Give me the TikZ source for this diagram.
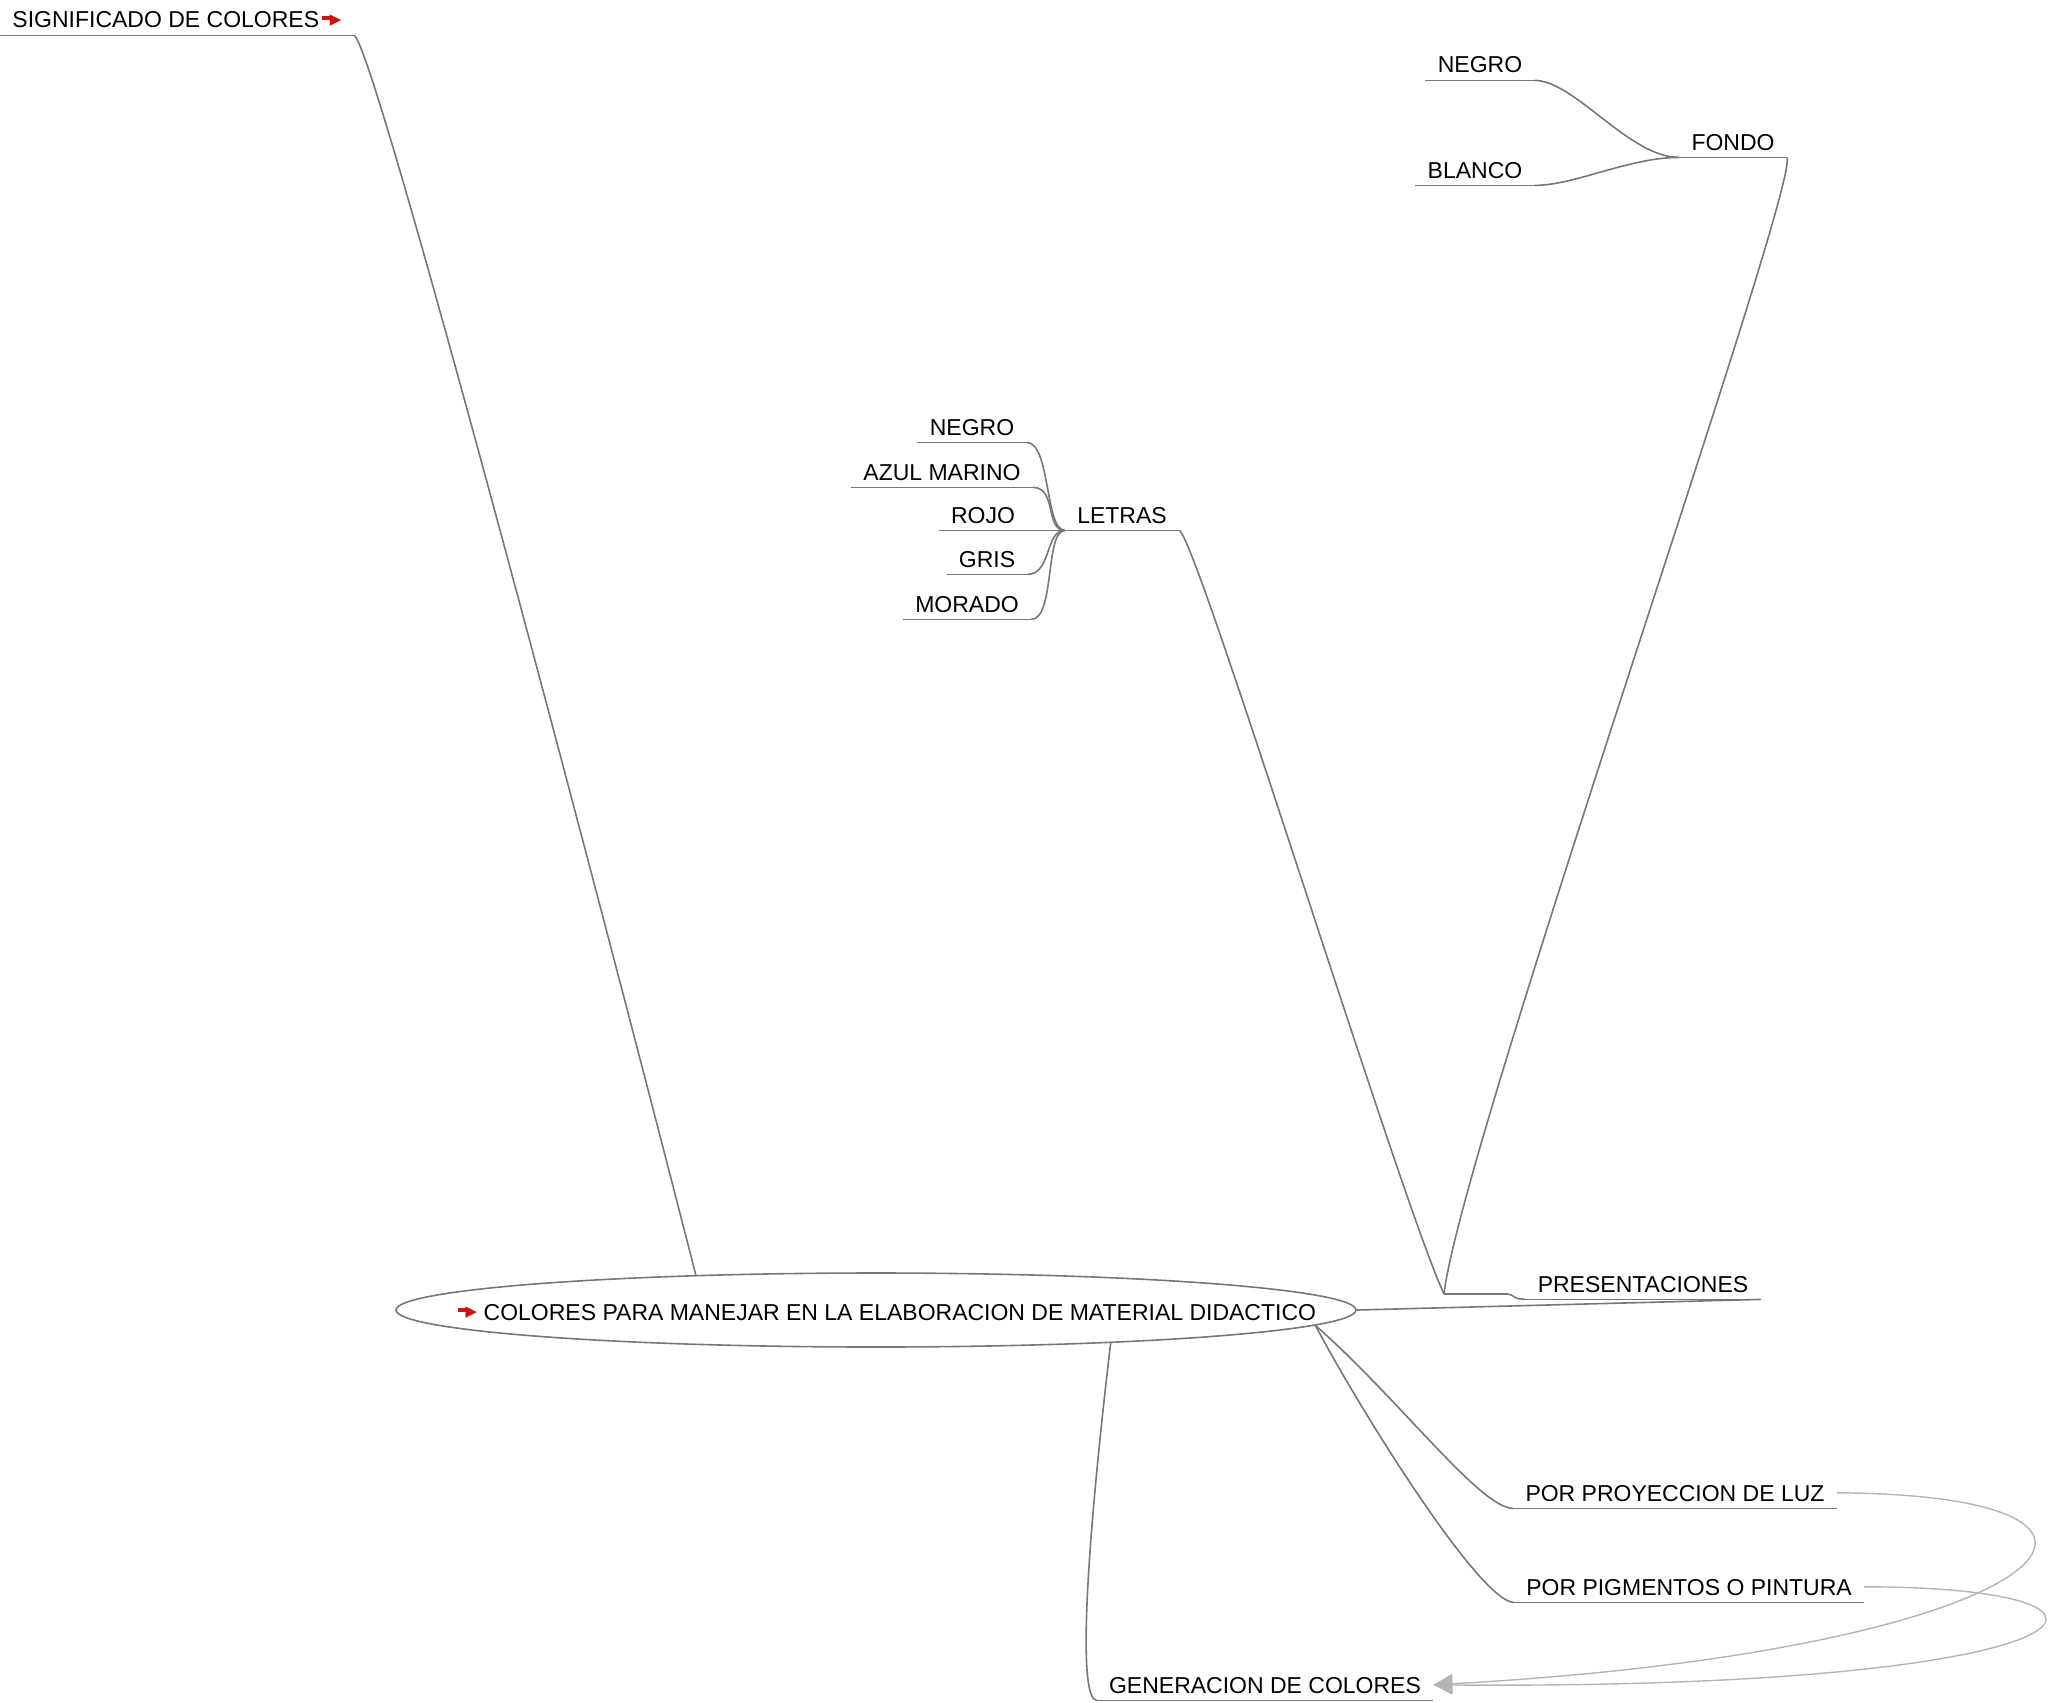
\documentclass[tikz,border=0pt]{standalone}
\usepackage{fontspec}
\setmainfont{Liberation Sans}
\newfontfamily\symfont{DejaVu Sans}
\usetikzlibrary{shapes.geometric,arrows.meta}
\definecolor{rama}{HTML}{777777}
\definecolor{enlace}{HTML}{B4B4B4}
\definecolor{rojoflecha}{HTML}{CC1111}
\newcommand{\flechaR}{{\color{rojoflecha}\rule[4pt]{4.5pt}{2.2pt}\kern-.6pt\raisebox{1.9pt}{\symfont\fontsize{7.5}{7.5}\selectfont ▶}}}

\begin{document}
\begin{tikzpicture}[x=.5pt,y=-.5pt,font=\fontsize{11.5}{13.8}\selectfont,
  tema/.style={anchor=base,inner xsep=6pt,inner ysep=3.5pt,text height=8.2pt,text depth=0pt},
  linea/.style={draw=rama,line width=.8pt},
  enlaceg/.style={draw=enlace,line width=.7pt,-{Triangle[length=9.5pt,width=9.5pt]}},
  nucleo/.style={ellipse,draw=rama,line width=.8pt,minimum width=480pt,minimum height=37pt,inner sep=0pt}]
  \useasboundingbox (0,0) rectangle (2048,1702);
  % central topic
  \node[nucleo] (titulo) at (876,1310) {};
  \node[anchor=base] (titulotxt) at (887,1320) {\flechaR\ COLORES PARA MANEJAR EN LA ELABORACION DE MATERIAL DIDACTICO};
  % topics
  \node[tema] (sig) at (177,28) {SIGNIFICADO DE COLORES\kern1.5pt\flechaR};
  \node[tema] (pres) at (1643,1292) {PRESENTACIONES};
  \node[tema] (fondo) at (1733,150) {FONDO};
  \node[tema] (fneg) at (1480,73) {NEGRO};
  \node[tema] (fbla) at (1475,178) {BLANCO};
  \node[tema] (letras) at (1122,523) {LETRAS};
  \node[tema] (lneg) at (972,435) {NEGRO};
  \node[tema] (lazu) at (942,480) {AZUL MARINO};
  \node[tema] (lroj) at (983,523) {ROJO};
  \node[tema] (lgri) at (987,567) {GRIS};
  \node[tema] (lmor) at (967,612) {MORADO};
  \node[tema] (proy) at (1675,1501) {POR PROYECCION DE LUZ};
  \node[tema] (pigm) at (1689,1595) {POR PIGMENTOS O PINTURA};
  \node[tema] (gener) at (1265,1693) {GENERACION DE COLORES};
  \coordinate (cruce) at (1444,1294);
  % underlines
  \foreach \n in {sig,pres,fondo,fneg,fbla,letras,lneg,lazu,lroj,lgri,lmor,proy,pigm,gener}
    \draw[linea] (\n.south west) -- (\n.south east);
  % branches
  \draw[linea] (sig.south east) .. controls (372,35) and (600,900) .. (titulo.169);
  \draw[linea] (titulo.east) -- (pres.south east);
  \draw[linea] (cruce) -- (1507,1294) .. controls (1514,1294) and (1513,1299) .. (1522,1299) -- (pres.south west);
  \draw[linea] (letras.south east) .. controls (1195,532) and (1400,1200) .. (cruce);
  \draw[linea] (fondo.south east) .. controls (1800,185) and (1460,1150) .. (cruce);
  \draw[linea] (fneg.south east) .. controls +(40,0) and +(-50,0) .. (fondo.south west);
  \draw[linea] (fbla.south east) .. controls +(40,0) and +(-50,0) .. (fondo.south west);
  \foreach \n in {lneg,lazu,lroj,lgri,lmor}
    \draw[linea] (\n.south east) .. controls +(24,0) and +(-20,0) .. (letras.south west);
  \draw[linea] (titulo.-2.1) .. controls (1400,1400) and (1480,1508) .. (proy.south west);
  \draw[linea] (titulo.-2.7) .. controls (1360,1410) and (1480,1602) .. (pigm.south west);
  \draw[linea] (titulo.-8.8) .. controls (1085,1560) and (1078,1699) .. (gener.south west);
  % links
  \draw[enlaceg] (proy.east) .. controls (2200,1495) and (2060,1650) .. (gener.east);
  \draw[enlaceg] (pigm.east) .. controls (2180,1587) and (2110,1690) .. (gener.east);
\end{tikzpicture}
\end{document}
